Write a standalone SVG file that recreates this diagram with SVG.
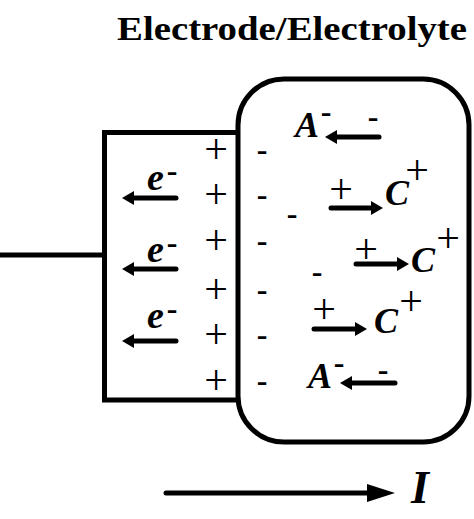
<svg xmlns="http://www.w3.org/2000/svg" width="474" height="519" viewBox="0 0 474 519">
<style>
.frame{fill:none;stroke:#000;stroke-width:5}
.arr{stroke:#000;stroke-width:5;stroke-linecap:round;fill:none}
text{font-family:'Liberation Serif','Times New Roman',Times,serif;fill:#000}
.it{font-weight:bold;font-style:italic}
.plus{font-size:42px;text-anchor:middle;font-weight:normal;font-style:normal}
.minus{font-weight:bold;font-size:32px;text-anchor:middle;font-style:normal}
</style>
<defs>
<marker id="ah" viewBox="0 0 12 14" refX="3" refY="7" markerWidth="12" markerHeight="14" markerUnits="userSpaceOnUse" orient="auto"><path d="M0,0 L12,7 L0,14 z" fill="#000"/></marker>
<marker id="ahL" viewBox="0 0 28 18" refX="4" refY="9" markerWidth="28" markerHeight="18" markerUnits="userSpaceOnUse" orient="auto"><path d="M0,0 L28,9 L0,18 z" fill="#000"/></marker>
</defs>
<rect width="474" height="519" fill="#fff"/>
<g id="title"><text x="117" y="40" font-family="Liberation Serif, serif" font-size="34" font-weight="bold" textLength="350" lengthAdjust="spacingAndGlyphs">Electrode/Electrolyte</text></g>
<g id="electrolyte">
<rect class="frame" x="238" y="79" width="231" height="363" rx="46" ry="46"/>
</g>
<g id="electrode">
<path class="frame" d="M238,132.5 H104.5 V400 H238"/>
</g>
<g id="charges">
<text class="plus" x="216" y="163">+</text>
<text class="plus" x="216" y="208">+</text>
<text class="plus" x="216" y="254">+</text>
<text class="plus" x="216" y="303">+</text>
<text class="plus" x="216" y="348">+</text>
<text class="plus" x="216" y="394">+</text>
<text class="minus" x="262" y="160">-</text>
<text class="minus" x="262" y="205">-</text>
<text class="minus" x="262" y="251">-</text>
<text class="minus" x="262" y="300">-</text>
<text class="minus" x="262" y="345">-</text>
<text class="minus" x="262" y="391">-</text>
<text class="minus" x="292" y="224">-</text>
<text class="minus" x="317" y="282">-</text>
</g>
<g id="electrons">
<text class="it" font-size="38" x="147" y="190">e<tspan class="minus" x="172" y="181">-</tspan></text>
<text class="it" font-size="38" x="147" y="262">e<tspan class="minus" x="172" y="253">-</tspan></text>
<text class="it" font-size="38" x="147" y="328">e<tspan class="minus" x="172" y="319">-</tspan></text>
</g>
<g id="ions">
<text class="it" font-size="36" x="295" y="137">A<tspan class="minus" x="326" y="122">-</tspan></text>
<text class="minus" x="373" y="127">-</text>
<text class="it" font-size="36" x="385" y="205">C<tspan class="plus" font-size="34" x="417" y="184">+</tspan></text>
<text class="plus" font-size="32" x="341" y="203">+</text>
<text class="it" font-size="36" x="411" y="272">C<tspan class="plus" font-size="34" x="448" y="252">+</tspan></text>
<text class="plus" font-size="32" x="366" y="263">+</text>
<text class="it" font-size="36" x="374" y="333">C<tspan class="plus" font-size="34" x="411" y="315">+</tspan></text>
<text class="plus" font-size="32" x="324" y="323">+</text>
<text class="it" font-size="36" x="308" y="388">A<tspan class="minus" x="339" y="373">-</tspan></text>
<text class="minus" x="383" y="380">-</text>
<text class="it" font-size="46" x="411" y="503">I</text>
</g>
<g id="connectors">
<line class="arr" x1="0" y1="255" x2="104" y2="255" stroke-linecap="butt"/>
<line class="arr" x1="176" y1="198" x2="131" y2="198" marker-end="url(#ah)"/>
<line class="arr" x1="176" y1="269" x2="131" y2="269" marker-end="url(#ah)"/>
<line class="arr" x1="176" y1="341" x2="131" y2="341" marker-end="url(#ah)"/>
<line class="arr" x1="379" y1="137" x2="334" y2="137" marker-end="url(#ah)"/>
<line class="arr" x1="331" y1="208" x2="374" y2="208" marker-end="url(#ah)"/>
<line class="arr" x1="356" y1="264" x2="400" y2="264" marker-end="url(#ah)"/>
<line class="arr" x1="314" y1="329" x2="358" y2="329" marker-end="url(#ah)"/>
<line class="arr" x1="395" y1="383" x2="349" y2="383" marker-end="url(#ah)"/>
<line class="arr" x1="166" y1="493" x2="371" y2="493" marker-end="url(#ahL)"/>
</g>
</svg>
